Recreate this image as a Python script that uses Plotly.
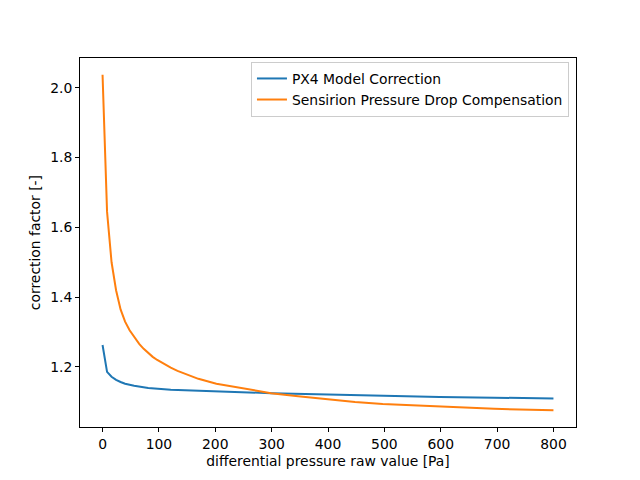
import plotly.graph_objects as go

# differential pressure raw value [Pa]
px4_x = [0, 8, 16, 24, 32, 40, 56, 81, 121, 202, 299, 400, 497, 598, 695, 800]
px4_y = [1.263, 1.186, 1.172, 1.163, 1.157, 1.152, 1.146, 1.140, 1.135, 1.130,
         1.125, 1.121, 1.117, 1.114, 1.112, 1.110]

sens_x = [0, 8, 16, 24, 32, 40, 48, 56, 65, 73, 81, 89, 97, 109, 121, 133, 145,
          170, 202, 250, 299, 347, 400, 448, 497, 598, 695, 800]
sens_y = [2.037, 1.645, 1.500, 1.420, 1.365, 1.330, 1.305, 1.285, 1.266, 1.252,
          1.240, 1.229, 1.220, 1.208, 1.198, 1.189, 1.181, 1.166, 1.152, 1.139,
          1.125, 1.116, 1.107, 1.100, 1.094, 1.086, 1.080, 1.076]

x_ticks = [0, 100, 200, 300, 400, 500, 600, 700, 800]
y_ticks = [1.2, 1.4, 1.6, 1.8, 2.0]

font = "DejaVu Sans"

fig = go.Figure()
fig.add_trace(go.Scatter(x=px4_x, y=px4_y, mode="lines", name="PX4 Model Correction",
                         line=dict(color="#1f77b4", width=2)))
fig.add_trace(go.Scatter(x=sens_x, y=sens_y, mode="lines",
                         name="Sensirion Pressure Drop Compensation",
                         line=dict(color="#ff7f0e", width=2)))

axis_common = dict(showline=True, linecolor="black", linewidth=1, mirror=True,
                   ticks="outside", ticklen=4, tickcolor="black", tickwidth=1,
                   showgrid=False, zeroline=False,
                   tickfont=dict(family=font, size=13.9, color="black"))

fig.update_layout(
    width=640, height=480,
    margin=dict(l=0, r=0, t=0, b=0),
    paper_bgcolor="white", plot_bgcolor="white",
    font=dict(family=font, size=13.9, color="black"),
    xaxis=dict(domain=[0.125, 0.9], range=[-40, 840], tickvals=x_ticks,
               ticktext=[str(v) for v in x_ticks],
               title=dict(text="differential pressure raw value [Pa]", standoff=5,
                          font=dict(family=font, size=13.9, color="black")),
               **axis_common),
    yaxis=dict(domain=[0.1104, 0.879], range=[1.028, 2.085], tickvals=y_ticks,
               ticktext=["%.1f" % v for v in y_ticks],
               title=dict(text="correction factor [-]", standoff=6,
                          font=dict(family=font, size=13.9, color="black")),
               **axis_common),
    legend=dict(x=0.889, y=0.871, xanchor="right", yanchor="top",
                bgcolor="white", bordercolor="#cccccc", borderwidth=1,
                font=dict(family=font, size=13.9, color="black"),
                itemwidth=30, tracegroupgap=0),
    showlegend=True,
)

fig.write_html("out.html")
